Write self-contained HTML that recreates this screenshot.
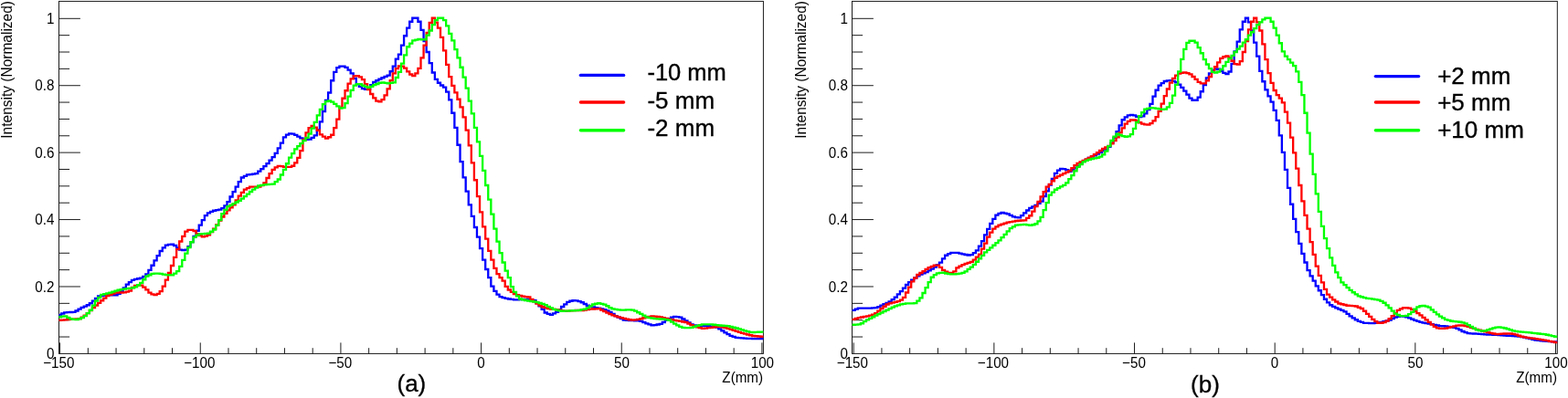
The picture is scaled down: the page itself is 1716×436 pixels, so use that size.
<!DOCTYPE html>
<html lang="en">
<head>
<meta charset="utf-8">
<title>Intensity (Normalized) vs Z(mm)</title>
<style>
html,body{margin:0;padding:0;background:#fff;}
body{width:1716px;height:436px;overflow:hidden;font-family:"Liberation Sans",sans-serif;}
svg{display:block;}
.t{font-family:"Liberation Sans",sans-serif;font-size:16.5px;fill:#000;}
.g{font-family:"Liberation Sans",sans-serif;font-size:26px;fill:#000;stroke:#000;stroke-width:0.35px;}
.c{font-family:"Liberation Sans",sans-serif;font-size:26px;fill:#000;stroke:#000;stroke-width:0.35px;}
</style>
</head>
<body>
<svg width="1716" height="436" viewBox="0 0 1716 436">
<rect x="0" y="0" width="1716" height="436" fill="#ffffff"/>
<rect x="64.50" y="1.4" width="770.90" height="386.00" fill="none" stroke="#111" stroke-width="0.95"/>
<path d="M64.50,369.04h11.6M64.50,350.69h11.6M64.50,332.33h11.6M64.50,313.98h23.4M64.50,295.62h11.6M64.50,277.27h11.6M64.50,258.91h11.6M64.50,240.56h23.4M64.50,222.20h11.6M64.50,203.85h11.6M64.50,185.49h11.6M64.50,167.14h23.4M64.50,148.78h11.6M64.50,130.43h11.6M64.50,112.07h11.6M64.50,93.72h23.4M64.50,75.36h11.6M64.50,57.01h11.6M64.50,38.65h11.6M64.50,20.30h23.4M65.60,387.40v-12M96.33,387.40v-6.2M127.06,387.40v-6.2M157.80,387.40v-6.2M188.53,387.40v-6.2M219.26,387.40v-12M249.99,387.40v-6.2M280.72,387.40v-6.2M311.46,387.40v-6.2M342.19,387.40v-6.2M372.92,387.40v-12M403.65,387.40v-6.2M434.38,387.40v-6.2M465.12,387.40v-6.2M495.85,387.40v-6.2M526.58,387.40v-12M557.31,387.40v-6.2M588.04,387.40v-6.2M618.78,387.40v-6.2M649.51,387.40v-6.2M680.24,387.40v-12M710.97,387.40v-6.2M741.70,387.40v-6.2M772.44,387.40v-6.2M803.17,387.40v-6.2M833.90,387.40v-12" fill="none" stroke="#111" stroke-width="0.95"/>
<text transform="translate(59.50,393.00) scale(0.922,1)" text-anchor="end" class="t">0</text>
<text transform="translate(59.50,319.58) scale(0.922,1)" text-anchor="end" class="t">0.2</text>
<text transform="translate(59.50,246.16) scale(0.922,1)" text-anchor="end" class="t">0.4</text>
<text transform="translate(59.50,172.74) scale(0.922,1)" text-anchor="end" class="t">0.6</text>
<text transform="translate(59.50,99.32) scale(0.922,1)" text-anchor="end" class="t">0.8</text>
<text transform="translate(59.50,25.90) scale(0.922,1)" text-anchor="end" class="t">1</text>
<text transform="translate(64.30,403.2) scale(0.922,1)" text-anchor="middle" class="t">−150</text>
<text transform="translate(218.32,403.2) scale(0.922,1)" text-anchor="middle" class="t">−100</text>
<text transform="translate(372.34,403.2) scale(0.922,1)" text-anchor="middle" class="t">−50</text>
<text transform="translate(526.36,403.2) scale(0.922,1)" text-anchor="middle" class="t">0</text>
<text transform="translate(680.38,403.2) scale(0.922,1)" text-anchor="middle" class="t">50</text>
<text transform="translate(834.40,403.2) scale(0.922,1)" text-anchor="middle" class="t">100</text>
<text transform="translate(835.10,419.2) scale(0.922,1)" text-anchor="end" class="t">Z(mm)</text>
<text transform="translate(12.60,151.7) rotate(-90) scale(0.94,1)" class="t">Intensity (Normalized)</text>
<rect x="932.50" y="1.4" width="771.80" height="386.00" fill="none" stroke="#111" stroke-width="0.95"/>
<path d="M932.50,369.04h11.6M932.50,350.69h11.6M932.50,332.33h11.6M932.50,313.98h23.4M932.50,295.62h11.6M932.50,277.27h11.6M932.50,258.91h11.6M932.50,240.56h23.4M932.50,222.20h11.6M932.50,203.85h11.6M932.50,185.49h11.6M932.50,167.14h23.4M932.50,148.78h11.6M932.50,130.43h11.6M932.50,112.07h11.6M932.50,93.72h23.4M932.50,75.36h11.6M932.50,57.01h11.6M932.50,38.65h11.6M932.50,20.30h23.4M934.20,387.40v-12M964.93,387.40v-6.2M995.66,387.40v-6.2M1026.40,387.40v-6.2M1057.13,387.40v-6.2M1087.86,387.40v-12M1118.59,387.40v-6.2M1149.32,387.40v-6.2M1180.06,387.40v-6.2M1210.79,387.40v-6.2M1241.52,387.40v-12M1272.25,387.40v-6.2M1302.98,387.40v-6.2M1333.72,387.40v-6.2M1364.45,387.40v-6.2M1395.18,387.40v-12M1425.91,387.40v-6.2M1456.64,387.40v-6.2M1487.38,387.40v-6.2M1518.11,387.40v-6.2M1548.84,387.40v-12M1579.57,387.40v-6.2M1610.30,387.40v-6.2M1641.04,387.40v-6.2M1671.77,387.40v-6.2M1702.50,387.40v-12" fill="none" stroke="#111" stroke-width="0.95"/>
<text transform="translate(928.00,393.00) scale(0.922,1)" text-anchor="end" class="t">0</text>
<text transform="translate(928.00,319.58) scale(0.922,1)" text-anchor="end" class="t">0.2</text>
<text transform="translate(928.00,246.16) scale(0.922,1)" text-anchor="end" class="t">0.4</text>
<text transform="translate(928.00,172.74) scale(0.922,1)" text-anchor="end" class="t">0.6</text>
<text transform="translate(928.00,99.32) scale(0.922,1)" text-anchor="end" class="t">0.8</text>
<text transform="translate(928.00,25.90) scale(0.922,1)" text-anchor="end" class="t">1</text>
<text transform="translate(932.90,403.2) scale(0.922,1)" text-anchor="middle" class="t">−150</text>
<text transform="translate(1086.92,403.2) scale(0.922,1)" text-anchor="middle" class="t">−100</text>
<text transform="translate(1240.94,403.2) scale(0.922,1)" text-anchor="middle" class="t">−50</text>
<text transform="translate(1394.96,403.2) scale(0.922,1)" text-anchor="middle" class="t">0</text>
<text transform="translate(1548.98,403.2) scale(0.922,1)" text-anchor="middle" class="t">50</text>
<text transform="translate(1703.00,403.2) scale(0.922,1)" text-anchor="middle" class="t">100</text>
<text transform="translate(1704.00,419.2) scale(0.922,1)" text-anchor="end" class="t">Z(mm)</text>
<text transform="translate(881.60,151.7) rotate(-90) scale(0.94,1)" class="t">Intensity (Normalized)</text>
<path d="M64.50,344.81H67.14V343.49H70.21V342.28H73.28V342.14H76.36V342.01H79.43V341.87H82.50V340.48H85.58V338.64H88.65V336.86H91.72V335.54H94.80V334.23H97.87V332.24H100.94V329.61H104.01V326.97H107.09V324.49H110.16V323.74H113.23V323.48H116.31V323.26H119.38V323.26H122.45V323.26H125.53V323.26H128.60V321.93H131.67V318.85H134.75V315.30H137.82V311.71H140.89V309.09H143.97V306.88H147.04V305.94H150.11V305.26H153.19V304.58H156.26V302.97H159.33V300.36H162.41V295.78H165.48V290.75H168.55V285.28H171.63V280.13H174.70V275.01H177.77V271.46H180.84V268.63H183.92V267.95H186.99V267.75H190.06V269.00H193.14V271.30H196.21V273.61H199.28V274.18H202.36V273.56H205.43V270.03H208.50V265.06H211.58V258.91H214.65V252.76H217.72V246.62H220.80V241.09H223.87V236.18H226.94V233.42H230.02V231.88H233.09V230.75H236.16V230.21H239.24V229.67H242.31V228.18H245.38V225.36H248.46V221.04H251.53V215.51H254.60V210.08H257.67V204.66H260.75V199.06H263.82V194.48H266.89V192.94H269.97V191.42H273.04V191.03H276.11V190.65H279.19V190.21H282.26V187.65H285.33V185.09H288.41V182.12H291.48V179.05H294.55V175.69H297.63V172.11H300.70V167.92H303.77V162.39H306.85V156.58H309.92V150.44H312.99V147.65H316.07V146.35H319.14V146.60H322.21V147.79H325.29V149.63H328.36V151.30H331.43V152.90H334.50V152.85H337.58V152.55H340.65V150.90H343.72V148.44H346.80V142.03H349.87V133.40H352.94V121.99H356.02V110.00H359.09V101.49H362.16V88.24H365.24V78.78H368.31V74.21H371.38V72.67H374.46V72.56H377.53V73.79H380.60V76.62H383.68V80.31H386.75V85.93H389.82V92.08H392.90V94.83H395.97V97.19H399.04V97.80H402.12V97.49H405.19V93.19H408.26V89.78H411.34V88.24H414.41V86.71H417.48V85.24H420.55V83.93H423.63V82.61H426.70V78.24H429.77V72.70H432.85V64.53H435.92V59.54H438.99V49.56H442.07V39.24H445.14V30.64H448.21V23.76H451.29V19.75H454.36V19.75H457.43V23.76H460.51V32.94H463.58V44.98H466.65V57.02H469.73V69.17H472.80V79.50H475.87V86.95H478.95V90.73H482.02V93.49H485.09V95.55H488.16V100.71H491.24V109.31H494.31V123.76H497.38V139.82H500.46V158.74H503.53V177.20H506.60V194.40H509.68V209.54H512.75V224.33H515.82V236.95H518.90V248.99H521.97V259.54H525.04V272.04H528.12V284.66H531.19V294.98H534.26V304.15H537.34V313.59H540.41V318.97H543.48V322.66H546.56V325.17H549.63V326.05H552.70V326.93H555.78V327.50H558.85V327.96H561.92V328.42H565.00V328.39H568.07V328.21H571.14V328.02H574.21V327.85H577.29V328.24H580.36V328.62H583.43V329.10H586.51V332.17H589.58V335.25H592.65V338.81H595.73V342.50H598.80V343.90H601.87V344.95H604.95V343.41H608.02V341.87H611.09V339.07H614.17V335.99H617.24V333.28H620.31V330.82H623.39V329.77H626.46V329.26H629.53V329.39H632.61V330.21H635.68V331.25H638.75V332.99H641.83V334.73H644.90V335.61H647.97V336.48H651.04V337.23H654.12V337.77H657.19V338.30H660.26V339.17H663.34V340.50H666.41V341.95H669.48V344.00H672.56V346.05H675.63V347.62H678.70V349.16H681.78V350.69H684.85V350.90H687.92V351.02H691.00V351.14H694.07V351.27H697.14V351.39H700.22V351.91H703.29V353.14H706.36V354.35H709.44V355.37H712.51V356.39H715.58V356.04H718.65V355.50H721.73V354.96H724.80V352.98H727.87V350.83H730.95V349.08H734.02V347.54H737.09V346.78H740.17V347.09H743.24V347.67H746.31V349.52H749.39V351.36H752.46V353.40H755.53V355.45H758.61V356.33H761.68V356.71H764.75V357.09H767.83V357.20H770.90V357.20H773.97V357.20H777.05V357.60H780.12V358.13H783.19V358.67H786.27V360.34H789.34V362.39H792.41V364.33H795.49V366.18H798.56V367.80H801.63V368.82H804.70V369.82H807.78V370.07H810.85V370.32H813.92V370.56H817.00V370.78H820.07V370.93H823.14V371.09H826.22V371.19H829.29V371.19H832.36V371.19H835.40" fill="none" stroke="#0000ff" stroke-width="2.3" stroke-linejoin="miter"/>
<path d="M64.50,350.75H67.14V350.55H70.21V350.36H73.28V350.17H76.36V349.94H79.43V349.70H82.50V349.45H85.58V349.21H88.65V347.58H91.72V345.73H94.80V343.12H97.87V340.04H100.94V337.14H104.01V334.51H107.09V331.87H110.16V329.24H113.23V326.61H116.31V324.19H119.38V322.88H122.45V321.58H125.53V320.50H128.60V320.50H131.67V320.50H134.75V320.35H137.82V319.53H140.89V318.71H143.97V315.00H147.04V312.79H150.11V312.49H153.19V312.69H156.26V314.69H159.33V317.47H162.41V320.55H165.48V322.41H168.55V323.03H171.63V321.81H174.70V319.10H177.77V313.72H180.84V306.54H183.92V298.87H186.99V291.02H190.06V281.80H193.14V273.10H196.21V264.49H199.28V258.86H202.36V253.71H205.43V251.87H208.50V251.80H211.58V253.11H214.65V256.19H217.72V258.11H220.80V259.34H223.87V258.70H226.94V257.47H230.02V254.14H233.09V250.55H236.16V246.30H239.24V241.69H242.31V237.50H245.38V233.92H248.46V230.42H251.53V227.35H254.60V224.27H257.67V219.47H260.75V214.64H263.82V210.96H266.89V207.71H269.97V206.17H273.04V204.64H276.11V204.56H279.19V204.53H282.26V204.51H285.33V203.10H288.41V200.37H291.48V195.00H294.55V190.21H297.63V185.91H300.70V183.45H303.77V181.85H306.85V182.16H309.92V182.90H312.99V182.94H316.07V182.94H319.14V181.77H322.21V178.33H325.29V172.88H328.36V165.19H331.43V152.99H334.50V145.33H337.58V140.11H340.65V137.81H343.72V139.54H346.80V142.73H349.87V147.34H352.94V149.71H356.02V151.71H359.09V150.23H362.16V147.77H365.24V140.08H368.31V130.69H371.38V117.65H374.46V107.76H377.53V99.26H380.60V91.58H383.68V86.35H386.75V83.38H389.82V83.08H392.90V84.41H395.97V87.12H399.04V92.17H402.12V98.08H405.19V103.00H408.26V107.36H411.34V110.56H414.41V111.31H417.48V109.16H420.55V104.34H423.63V97.40H426.70V88.18H429.77V80.46H432.85V75.20H435.92V72.49H438.99V72.61H442.07V74.69H445.14V78.38H448.21V81.50H451.29V83.04H454.36V80.44H457.43V74.90H460.51V63.44H463.58V49.56H466.65V35.80H469.73V24.91H472.80V19.75H475.87V24.68H478.95V30.64H482.02V40.96H485.09V55.30H488.16V70.89H491.24V84.08H494.31V93.83H497.38V101.28H500.46V108.74H503.53V117.45H506.60V128.35H509.68V142.68H512.75V159.31H515.82V178.35H518.90V197.27H521.97V215.16H525.04V232.36H528.12V248.42H531.19V261.72H534.26V274.91H537.34V284.66H540.41V293.83H543.48V300.14H546.56V304.15H549.63V307.59H552.70V313.91H555.78V317.49H558.85V319.96H561.92V322.22H565.00V323.10H568.07V323.98H571.14V324.63H574.21V325.07H577.29V325.51H580.36V327.86H583.43V330.42H586.51V332.64H589.58V334.69H592.65V336.24H595.73V337.12H598.80V338.00H601.87V338.48H604.95V338.86H608.02V339.25H611.09V339.76H614.17V340.29H617.24V340.83H620.31V340.66H623.39V340.35H626.46V340.04H629.53V340.00H632.61V340.00H635.68V340.00H638.75V339.60H641.83V339.14H644.90V338.68H647.97V338.49H651.04V338.33H654.12V338.18H657.19V339.55H660.26V341.08H663.34V342.62H666.41V344.16H669.48V345.43H672.56V346.36H675.63V347.28H678.70V348.13H681.78V348.90H684.85V349.67H687.92V350.26H691.00V350.63H694.07V350.47H697.14V349.96H700.22V349.26H703.29V348.24H706.36V347.29H709.44V346.88H712.51V346.47H715.58V346.69H718.65V347.00H721.73V347.31H724.80V348.03H727.87V348.80H730.95V349.57H734.02V350.19H737.09V350.81H740.17V351.42H743.24V351.97H746.31V352.50H749.39V353.04H752.46V354.52H755.53V356.06H758.61V357.59H761.68V358.40H764.75V359.16H767.83V359.93H770.90V359.58H773.97V359.20H777.05V358.81H780.12V358.43H783.19V358.04H786.27V357.66H789.34V358.43H792.41V359.20H795.49V359.97H798.56V360.97H801.63V361.97H804.70V362.96H807.78V363.89H810.85V364.81H813.92V365.72H817.00V366.49H820.07V367.26H823.14V368.00H826.22V368.24H829.29V368.49H832.36V368.73H835.40" fill="none" stroke="#ff0000" stroke-width="2.3" stroke-linejoin="miter"/>
<path d="M64.50,347.24H67.14V346.69H70.21V346.33H73.28V347.87H76.36V349.41H79.43V349.81H82.50V350.01H85.58V349.34H88.65V348.11H91.72V346.19H94.80V343.12H97.87V339.77H100.94V334.65H104.01V329.52H107.09V326.02H110.16V322.78H113.23V322.07H116.31V321.37H119.38V320.55H122.45V319.55H125.53V318.55H128.60V317.75H131.67V317.21H134.75V316.67H137.82V316.20H140.89V315.82H143.97V315.44H147.04V314.28H150.11V312.23H153.19V309.84H156.26V306.26H159.33V302.67H162.41V301.30H165.48V299.97H168.55V299.63H171.63V299.63H174.70V299.94H177.77V300.56H180.84V301.06H183.92V301.27H186.99V301.42H190.06V299.57H193.14V297.17H196.21V291.91H199.28V284.80H202.36V277.63H205.43V271.20H208.50V265.24H211.58V259.86H214.65V257.57H217.72V256.34H220.80V256.06H223.87V255.90H226.94V255.75H230.02V253.76H233.09V251.48H236.16V246.87H239.24V241.03H242.31V234.22H245.38V229.92H248.46V226.10H251.53V224.57H254.60V223.03H257.67V221.50H260.75V219.96H263.82V217.71H266.89V215.15H269.97V212.58H273.04V210.02H276.11V207.58H279.19V205.53H282.26V203.48H285.33V202.93H288.41V202.42H291.48V202.19H294.55V201.96H297.63V201.60H300.70V199.04H303.77V196.48H306.85V191.49H309.92V185.96H312.99V179.26H316.07V172.68H319.14V168.07H322.21V163.46H325.29V160.15H328.36V157.08H331.43V154.00H334.50V150.93H337.58V146.72H340.65V140.58H343.72V133.81H346.80V126.44H349.87V119.85H352.94V114.14H356.02V111.07H359.09V110.50H362.16V111.53H365.24V113.91H368.31V116.30H371.38V118.68H374.46V118.03H377.53V113.06H380.60V105.58H383.68V98.88H386.75V93.66H389.82V92.12H392.90V92.26H395.97V93.77H399.04V94.80H402.12V95.82H405.19V94.76H408.26V93.22H411.34V91.98H414.41V90.95H417.48V90.45H420.55V90.96H423.63V91.37H426.70V90.86H429.77V90.35H432.85V84.99H435.92V78.85H438.99V69.65H442.07V60.43H445.14V51.25H448.21V47.57H451.29V44.30H454.36V43.58H457.43V42.87H460.51V43.35H463.58V43.26H466.65V38.67H469.73V33.51H472.80V27.20H475.87V22.04H478.95V19.75H482.02V19.75H485.09V22.04H488.16V28.35H491.24V36.95H494.31V44.40H497.38V54.15H500.46V63.44H503.53V73.76H506.60V84.66H509.68V96.70H512.75V110.57H515.82V124.33H518.90V139.82H521.97V155.30H525.04V170.89H528.12V186.95H531.19V203.00H534.26V218.60H537.34V234.66H540.41V250.71H543.48V264.59H546.56V277.20H549.63V287.52H552.70V296.70H555.78V304.15H558.85V314.14H561.92V319.92H565.00V324.42H568.07V327.49H571.14V328.39H574.21V329.00H577.29V329.58H580.36V330.04H583.43V330.50H586.51V331.09H589.58V332.01H592.65V332.94H595.73V334.09H598.80V335.78H601.87V337.47H604.95V338.87H608.02V339.64H611.09V340.41H614.17V340.87H617.24V340.71H620.31V340.56H623.39V340.41H626.46V340.25H629.53V340.10H632.61V339.78H635.68V339.16H638.75V338.55H641.83V337.39H644.90V335.34H647.97V333.48H651.04V332.76H654.12V332.04H657.19V332.80H660.26V333.72H663.34V335.25H666.41V337.10H669.48V338.39H672.56V338.93H675.63V339.47H678.70V339.70H681.78V339.55H684.85V339.40H687.92V339.42H691.00V339.67H694.07V340.69H697.14V342.23H700.22V343.88H703.29V345.72H706.36V347.41H709.44V348.03H712.51V348.64H715.58V349.20H718.65V349.35H721.73V349.50H724.80V349.71H727.87V350.22H730.95V350.74H734.02V352.65H737.09V354.70H740.17V356.40H743.24V357.94H746.31V358.87H749.39V359.03H752.46V359.18H755.53V358.81H758.61V357.78H761.68V356.82H764.75V356.10H767.83V355.39H770.90V355.37H773.97V355.37H777.05V355.37H780.12V355.75H783.19V356.13H786.27V356.51H789.34V356.74H792.41V356.98H795.49V357.21H798.56V357.98H801.63V358.75H804.70V359.52H807.78V360.45H810.85V361.37H813.92V362.28H817.00V363.10H820.07V363.92H823.14V364.00H826.22V363.90H829.29V363.74H832.36V363.53H835.40" fill="none" stroke="#00ff00" stroke-width="2.3" stroke-linejoin="miter"/>
<path d="M932.50,339.96H935.74V338.65H938.81V337.71H941.88V337.71H944.96V337.71H948.03V337.71H951.10V337.58H954.18V337.35H957.25V337.12H960.32V336.14H963.40V334.61H966.47V333.14H969.54V331.81H972.62V330.38H975.69V328.03H978.76V325.67H981.83V322.44H984.91V319.06H987.98V315.57H991.05V312.00H994.13V309.17H997.20V306.59H1000.27V304.39H1003.35V302.24H1006.42V300.68H1009.49V299.45H1012.57V298.05H1015.64V296.41H1018.71V294.69H1021.79V292.54H1024.86V290.18H1027.93V287.60H1031.01V283.34H1034.08V279.76H1037.15V278.22H1040.23V276.83H1043.30V276.83H1046.37V276.83H1049.45V277.54H1052.52V278.36H1055.59V278.99H1058.66V279.50H1061.74V279.07H1064.81V277.09H1067.88V274.32H1070.96V269.59H1074.03V264.16H1077.10V257.39H1080.18V250.93H1083.25V244.78H1086.32V239.82H1089.40V235.60H1092.47V233.82H1095.54V232.93H1098.62V233.65H1101.69V234.36H1104.76V235.86H1107.84V237.39H1110.91V238.10H1113.98V238.47H1117.06V236.16H1120.13V233.33H1123.20V230.50H1126.28V227.83H1129.35V226.39H1132.42V224.96H1135.49V222.85H1138.57V220.62H1141.64V215.09H1144.71V209.38H1147.79V202.60H1150.86V195.94H1153.93V189.79H1157.01V186.68H1160.08V184.84H1163.15V185.19H1166.23V186.22H1169.30V187.76H1172.37V186.23H1175.45V184.18H1178.52V181.82H1181.59V179.26H1184.67V176.89H1187.74V174.84H1190.81V172.89H1193.89V171.56H1196.96V170.23H1200.03V168.53H1203.11V166.79H1206.18V165.18H1209.25V163.64H1212.32V160.94H1215.40V156.64H1218.47V150.97H1221.54V144.21H1224.62V137.35H1227.69V131.23H1230.76V128.41H1233.84V126.35H1236.91V125.86H1239.98V126.28H1243.06V127.76H1246.13V127.98H1249.20V127.37H1252.28V124.39H1255.35V119.99H1258.42V113.84H1261.50V105.69H1264.57V98.76H1267.64V93.57H1270.72V91.11H1273.79V89.01H1276.86V88.39H1279.93V88.18H1283.01V88.80H1286.08V90.27H1289.15V92.73H1292.23V95.92H1295.30V99.61H1298.37V103.57H1301.45V107.62H1304.52V109.76H1307.59V109.77H1310.67V106.70H1313.74V100.24H1316.81V93.02H1319.89V85.34H1322.96V80.41H1326.03V77.02H1329.11V75.42H1332.18V75.75H1335.25V77.75H1338.33V79.84H1341.40V81.09H1344.47V78.48H1347.55V69.93H1350.62V56.44H1353.69V45.55H1356.77V32.36H1359.84V23.76H1362.91V19.75H1365.98V24.33H1369.06V33.51H1372.13V46.70H1375.20V61.72H1378.28V77.78H1381.35V89.24H1384.42V98.42H1387.50V105.30H1390.57V111.72H1393.64V120.89H1396.72V131.79H1399.79V148.42H1402.86V166.88H1405.94V185.80H1409.01V205.87H1412.08V223.76H1415.16V239.82H1418.23V254.15H1421.30V266.88H1424.38V277.78H1427.45V287.52H1430.52V296.12H1433.60V302.43H1436.67V307.59H1439.74V313.33H1442.81V318.25H1445.89V323.16H1448.96V327.73H1452.03V331.42H1455.11V334.23H1458.18V335.82H1461.25V337.40H1464.33V338.69H1467.40V339.92H1470.47V341.39H1473.55V343.85H1476.62V346.30H1479.69V348.41H1482.77V350.25H1485.84V351.82H1488.91V352.84H1491.99V353.78H1495.06V353.93H1498.13V354.08H1501.21V354.18H1504.28V353.79H1507.35V353.41H1510.43V352.97H1513.50V352.20H1516.57V351.44H1519.64V350.56H1522.72V349.02H1525.79V347.48H1528.86V346.88H1531.94V346.36H1535.01V346.67H1538.08V347.39H1541.16V348.37H1544.23V349.70H1547.30V350.96H1550.38V351.89H1553.45V352.83H1556.52V353.65H1559.60V354.11H1562.67V354.57H1565.74V355.09H1568.82V355.78H1571.89V356.48H1574.96V357.04H1578.04V357.27H1581.11V357.50H1584.18V357.82H1587.26V358.36H1590.33V358.90H1593.40V359.78H1596.47V361.42H1599.55V363.01H1602.62V364.03H1605.69V365.06H1608.77V365.36H1611.84V365.51H1614.91V365.66H1617.99V365.88H1621.06V366.11H1624.13V366.34H1627.21V366.51H1630.28V366.66H1633.35V366.82H1636.43V366.97H1639.50V367.12H1642.57V367.28H1645.65V367.50H1648.72V367.73H1651.79V367.96H1654.87V368.19H1657.94V368.42H1661.01V368.65H1664.09V369.17H1667.16V369.70H1670.23V370.24H1673.30V370.99H1676.38V371.76H1679.45V372.53H1682.52V372.93H1685.60V373.32H1688.67V373.70H1691.74V373.94H1694.82V374.17H1697.89V374.40H1700.96V374.40H1704.30" fill="none" stroke="#0000ff" stroke-width="2.3" stroke-linejoin="miter"/>
<path d="M932.50,349.79H935.74V348.98H938.81V348.17H941.88V347.51H944.96V346.97H948.03V346.43H951.10V345.62H954.18V344.60H957.25V343.09H960.32V340.53H963.40V337.99H966.47V335.74H969.54V333.49H972.62V332.43H975.69V331.61H978.76V330.86H981.83V330.14H984.91V328.68H987.98V325.92H991.05V320.49H994.13V314.53H997.20V308.39H1000.27V304.52H1003.35V300.98H1006.42V299.01H1009.49V297.03H1012.57V294.94H1015.64V293.09H1018.71V291.86H1021.79V290.72H1024.86V290.61H1027.93V292.85H1031.01V295.92H1034.08V297.73H1037.15V298.95H1040.23V298.87H1043.30V297.28H1046.37V293.44H1049.45V291.57H1052.52V290.04H1055.59V288.83H1058.66V287.83H1061.74V286.83H1064.81V284.64H1067.88V281.75H1070.96V278.57H1074.03V272.66H1077.10V266.59H1080.18V259.68H1083.25V254.63H1086.32V250.53H1089.40V248.47H1092.47V246.71H1095.54V245.57H1098.62V244.60H1101.69V243.63H1104.76V243.07H1107.84V242.53H1110.91V241.99H1113.98V241.75H1117.06V241.52H1120.13V241.29H1123.20V238.79H1126.28V236.23H1129.35V231.59H1132.42V226.22H1135.49V220.84H1138.57V215.46H1141.64V210.08H1144.71V204.70H1147.79V201.86H1150.86V198.26H1153.93V194.74H1157.01V193.21H1160.08V191.67H1163.15V190.13H1166.23V188.60H1169.30V187.06H1172.37V184.21H1175.45V181.14H1178.52V179.01H1181.59V177.47H1184.67V175.94H1187.74V174.40H1190.81V172.86H1193.89V171.13H1196.96V169.08H1200.03V167.03H1203.11V164.98H1206.18V162.93H1209.25V161.35H1212.32V159.81H1215.40V157.24H1218.47V154.17H1221.54V150.29H1224.62V145.37H1227.69V140.46H1230.76V135.54H1233.84V132.96H1236.91V131.36H1239.98V131.49H1243.06V132.43H1246.13V134.27H1249.20V135.62H1252.28V136.44H1255.35V136.68H1258.42V135.08H1261.50V132.47H1264.57V128.17H1267.64V121.88H1270.72V113.61H1273.79V105.22H1276.86V97.49H1279.93V90.58H1283.01V85.87H1286.08V82.54H1289.15V80.70H1292.23V79.73H1295.30V79.36H1298.37V80.17H1301.45V81.40H1304.52V84.01H1307.59V86.84H1310.67V89.91H1313.74V91.42H1316.81V91.37H1319.89V88.30H1322.96V84.02H1326.03V78.65H1329.11V73.27H1332.18V68.30H1335.25V63.83H1338.33V62.23H1341.40V61.28H1344.47V63.27H1347.55V66.75H1350.62V70.18H1353.69V70.64H1356.77V67.19H1359.84V57.02H1362.91V44.98H1365.98V32.36H1369.06V23.76H1372.13V19.75H1375.20V24.33H1378.28V33.51H1381.35V48.42H1384.42V65.16H1387.50V80.07H1390.57V90.96H1393.64V98.99H1396.72V104.15H1399.79V107.59H1402.86V112.29H1405.94V122.61H1409.01V134.66H1412.08V150.71H1415.16V167.45H1418.23V184.66H1421.30V203.00H1424.38V220.32H1427.45V235.80H1430.52V250.71H1433.60V265.16H1436.67V278.92H1439.74V291.54H1442.81V301.86H1445.89V309.40H1448.96V316.96H1452.03V322.61H1455.11V325.68H1458.18V328.45H1461.25V330.50H1464.33V332.48H1467.40V333.24H1470.47V334.01H1473.55V334.74H1476.62V334.97H1479.69V335.20H1482.77V335.52H1485.84V336.75H1488.91V337.98H1491.99V340.77H1495.06V343.84H1498.13V346.92H1501.21V349.89H1504.28V352.10H1507.35V353.76H1510.43V353.76H1513.50V353.15H1516.57V351.55H1519.64V349.19H1522.72V346.11H1525.79V343.04H1528.86V339.97H1531.94V338.34H1535.01V337.12H1538.08V337.24H1541.16V337.57H1544.23V339.16H1547.30V340.88H1550.38V343.12H1553.45V345.36H1556.52V347.79H1559.60V350.36H1562.67V352.97H1565.74V355.68H1568.82V357.80H1571.89V359.40H1574.96V359.95H1578.04V359.95H1581.11V359.66H1584.18V358.94H1587.26V358.20H1590.33V357.38H1593.40V356.56H1596.47V356.51H1599.55V356.51H1602.62V357.09H1605.69V357.91H1608.77V358.82H1611.84V359.84H1614.91V360.84H1617.99V361.71H1621.06V362.59H1624.13V363.37H1627.21V364.09H1630.28V364.81H1633.35V365.52H1636.43V366.12H1639.50V365.92H1642.57V365.71H1645.65V365.51H1648.72V365.30H1651.79V365.50H1654.87V365.91H1657.94V366.61H1661.01V367.74H1664.09V368.76H1667.16V369.30H1670.23V369.84H1673.30V370.35H1676.38V370.73H1679.45V371.12H1682.52V371.53H1685.60V372.07H1688.67V372.61H1691.74V373.16H1694.82V373.78H1697.89V374.39H1700.96V375.01H1704.30" fill="none" stroke="#ff0000" stroke-width="2.3" stroke-linejoin="miter"/>
<path d="M932.50,355.76H935.74V355.60H938.81V355.44H941.88V354.26H944.96V352.21H948.03V350.32H951.10V348.78H954.18V347.24H957.25V345.71H960.32V344.17H963.40V342.63H966.47V341.10H969.54V339.56H972.62V338.03H975.69V336.62H978.76V335.47H981.83V334.32H984.91V333.39H987.98V332.88H991.05V332.43H994.13V332.43H997.20V332.43H1000.27V332.10H1003.35V329.64H1006.42V326.39H1009.49V321.02H1012.57V315.04H1015.64V309.11H1018.71V303.74H1021.79V301.15H1024.86V299.31H1027.93V298.95H1031.01V298.76H1034.08V299.48H1037.15V300.19H1040.23V300.32H1043.30V300.32H1046.37V300.19H1049.45V299.58H1052.52V298.96H1055.59V297.31H1058.66V294.96H1061.74V292.61H1064.81V289.80H1067.88V286.73H1070.96V283.45H1074.03V279.87H1077.10V276.44H1080.18V273.88H1083.25V271.32H1086.32V268.76H1089.40V266.19H1092.47V263.29H1095.54V260.21H1098.62V256.92H1101.69V253.33H1104.76V250.11H1107.84V248.37H1110.91V246.63H1113.98V246.34H1117.06V246.11H1120.13V245.88H1123.20V246.37H1126.28V246.88H1129.35V246.26H1132.42V245.24H1135.49V242.43H1138.57V237.81H1141.64V230.13H1144.71V222.05H1147.79V213.70H1150.86V210.63H1153.93V207.77H1157.01V206.12H1160.08V204.47H1163.15V202.82H1166.23V200.32H1169.30V196.22H1172.37V192.07H1175.45V187.46H1178.52V182.85H1181.59V180.02H1184.67V177.46H1187.74V175.87H1190.81V174.84H1193.89V173.98H1196.96V173.37H1200.03V172.75H1203.11V171.54H1206.18V169.45H1209.25V165.58H1212.32V160.17H1215.40V154.02H1218.47V149.58H1221.54V146.77H1224.62V148.00H1227.69V149.11H1230.76V149.73H1233.84V149.38H1236.91V147.07H1239.98V140.90H1243.06V133.99H1246.13V127.07H1249.20V123.12H1252.28V119.68H1255.35V118.93H1258.42V118.21H1261.50V118.41H1264.57V118.92H1267.64V119.43H1270.72V119.95H1273.79V119.70H1276.86V117.39H1279.93V112.90H1283.01V104.70H1286.08V92.80H1289.15V78.46H1292.23V64.81H1295.30V53.97H1298.37V46.80H1301.45V44.73H1304.52V44.70H1307.59V46.70H1310.67V52.08H1313.74V58.24H1316.81V65.13H1319.89V70.51H1322.96V75.08H1326.03V78.83H1329.11V79.60H1332.18V78.63H1335.25V76.17H1338.33V72.27H1341.40V67.83H1344.47V64.14H1347.55V60.80H1350.62V57.02H1353.69V53.58H1356.77V50.71H1359.84V46.70H1362.91V43.26H1365.98V38.67H1369.06V35.23H1372.13V31.22H1375.20V27.20H1378.28V24.33H1381.35V21.47H1384.42V19.75H1387.50V19.75H1390.57V23.76H1393.64V30.64H1396.72V38.67H1399.79V47.27H1402.86V56.44H1405.94V61.72H1409.01V65.16H1412.08V68.60H1415.16V72.04H1418.23V78.35H1421.30V89.82H1424.38V104.15H1427.45V123.76H1430.52V145.55H1433.60V168.60H1436.67V190.96H1439.74V212.29H1442.81V231.79H1445.89V247.84H1448.96V261.15H1452.03V272.04H1455.11V282.36H1458.18V290.96H1461.25V298.42H1464.33V304.15H1467.40V309.31H1470.47V312.04H1473.55V315.22H1476.62V317.78H1479.69V320.24H1482.77V322.29H1485.84V324.34H1488.91V325.25H1491.99V326.13H1495.06V326.83H1498.13V327.22H1501.21V327.60H1504.28V328.07H1507.35V328.69H1510.43V329.92H1513.50V331.76H1516.57V334.39H1519.64V337.47H1522.72V340.54H1525.79V343.61H1528.86V345.01H1531.94V346.19H1535.01V346.19H1538.08V345.87H1541.16V344.03H1544.23V341.80H1547.30V338.73H1550.38V336.35H1553.45V335.24H1556.52V334.78H1559.60V335.59H1562.67V336.60H1565.74V339.30H1568.82V341.97H1571.89V344.43H1574.96V346.68H1578.04V348.42H1581.11V350.13H1584.18V350.95H1587.26V351.77H1590.33V352.09H1593.40V352.30H1596.47V352.73H1599.55V353.35H1602.62V354.33H1605.69V356.07H1608.77V357.81H1611.84V359.55H1614.91V361.29H1617.99V362.08H1621.06V362.70H1624.13V362.31H1627.21V361.29H1630.28V360.28H1633.35V359.29H1636.43V358.68H1639.50V358.44H1642.57V358.81H1645.65V359.52H1648.72V360.36H1651.79V361.39H1654.87V362.33H1657.94V362.84H1661.01V363.35H1664.09V363.61H1667.16V363.84H1670.23V364.07H1673.30V364.44H1676.38V364.83H1679.45V365.21H1682.52V365.52H1685.60V365.83H1688.67V366.14H1691.74V366.74H1694.82V367.36H1697.89V368.04H1700.96V368.76H1704.30" fill="none" stroke="#00ff00" stroke-width="2.3" stroke-linejoin="miter"/>
<line x1="635.40" y1="82.4" x2="682.60" y2="82.4" stroke="#0000ff" stroke-width="3.4" stroke-linecap="round"/>
<text x="708.4" y="88.1" class="g" style="font-size:25.5px">-10 mm</text>
<line x1="635.40" y1="112" x2="682.60" y2="112" stroke="#ff0000" stroke-width="3.4" stroke-linecap="round"/>
<text x="708.4" y="118.5" class="g">-5 mm</text>
<line x1="635.40" y1="142.7" x2="682.60" y2="142.7" stroke="#00ff00" stroke-width="3.4" stroke-linecap="round"/>
<text x="708.4" y="148.9" class="g">-2 mm</text>
<line x1="1505.40" y1="83.6" x2="1552.60" y2="83.6" stroke="#0000ff" stroke-width="3.4" stroke-linecap="round"/>
<text x="1573.2" y="91.5" class="g">+2 mm</text>
<line x1="1505.40" y1="112" x2="1552.60" y2="112" stroke="#ff0000" stroke-width="3.4" stroke-linecap="round"/>
<text x="1573.2" y="121.4" class="g">+5 mm</text>
<line x1="1505.40" y1="142.7" x2="1552.60" y2="142.7" stroke="#00ff00" stroke-width="3.4" stroke-linecap="round"/>
<text x="1573.2" y="151.3" class="g">+10 mm</text>
<text x="450.4" y="429.4" text-anchor="middle" class="c">(a)</text>
<text x="1319.0" y="430.0" text-anchor="middle" class="c">(b)</text>
</svg>
</body>
</html>
